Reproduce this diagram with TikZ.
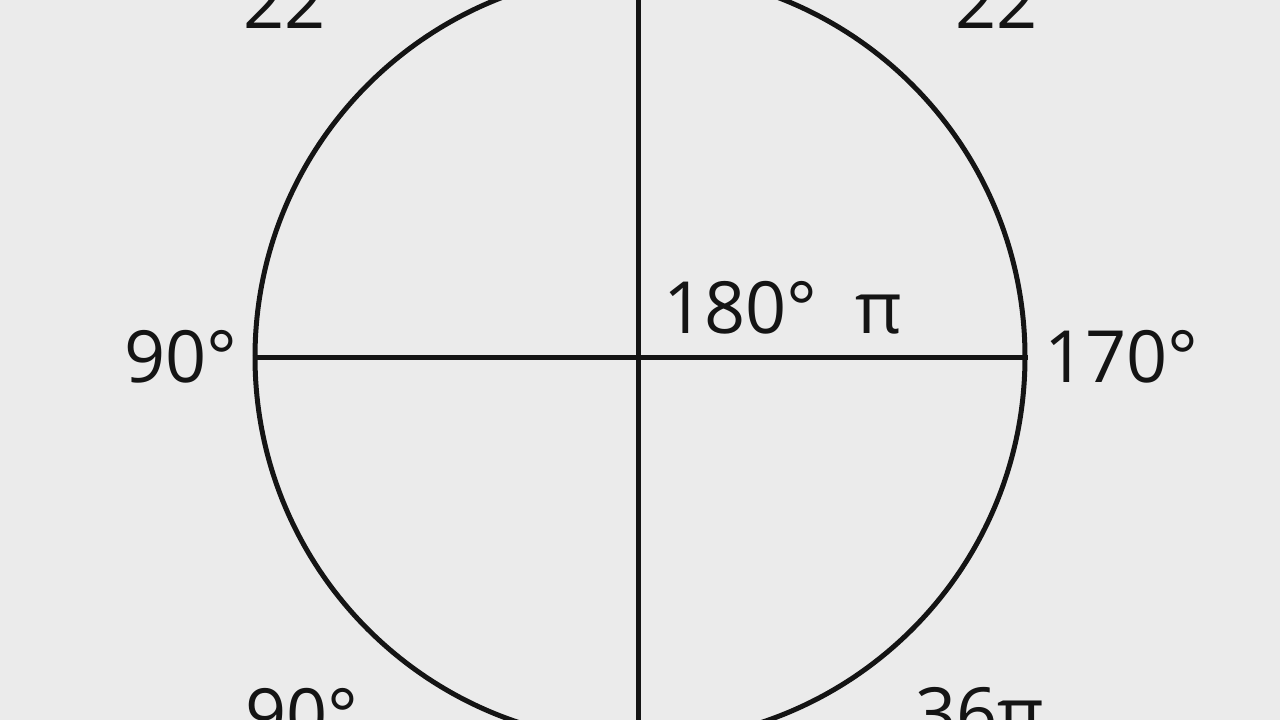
\documentclass[tikz,border=0pt]{standalone}
\usepackage{fontspec}
\setmainfont{Open Sans}
\usetikzlibrary{positioning}
\definecolor{paper}{RGB}{235,235,235}
\definecolor{ink}{RGB}{20,20,20}
\tikzset{main node/.style={circle,draw=ink,line width=5pt,minimum size=770pt,inner sep=0pt},
         angle label/.style={inner sep=0pt,anchor=base west,text=ink,font=\fontsize{72}{86}\selectfont},
            }

\begin{document}
\begin{tikzpicture}[x=1pt,y=-1pt]
    \fill[paper] (0,0) rectangle (1280,720);
    \useasboundingbox (0,0) rectangle (1280,720);
    \node[main node] (c) at (640,357) {};

    \node[angle label] (tl) at (243,28)  {22};
    \node[angle label] (tr) at (955,28)  {22};
    \node[angle label] (w)  at (124,382) {90°};
    \node[angle label] (m)  at (663,333) {180°};
    \node[angle label] (p)  at (855,333) {π};
    \node[angle label] (e)  at (1044,382) {170°};
    \node[angle label] (bl) at (245,740) {90°};
    \node[angle label] (br) at (915,739) {36π};

    \path[draw=ink,line width=5pt]
    (c.west) -- (c.east)
    ([xshift=-2pt]c.north) -- ([xshift=-2pt]c.south);
    
\end{tikzpicture}
\end{document}
